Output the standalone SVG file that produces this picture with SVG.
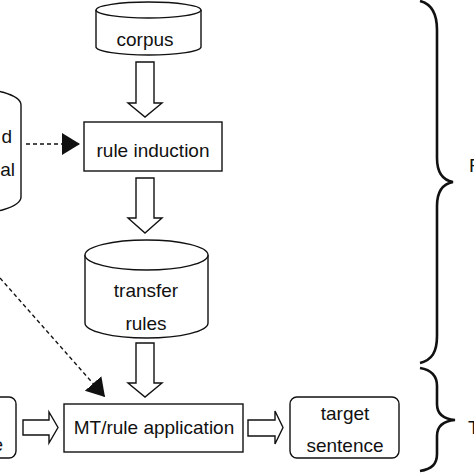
<svg xmlns="http://www.w3.org/2000/svg" width="474" height="474" viewBox="0 0 474 474">
<style>
.s{fill:#fff;stroke:#111;stroke-width:1.4}
.t{font-family:"Liberation Sans",Arial,sans-serif;font-size:19px;fill:#111}
.c{text-anchor:middle}
.d{fill:none;stroke:#111;stroke-width:1.3;stroke-dasharray:4 3}
.b{fill:none;stroke:#111;stroke-width:2.6}
</style>
<defs>
<marker id="ah" markerUnits="userSpaceOnUse" markerWidth="20" markerHeight="24" refX="18" refY="11" orient="auto">
<path d="M0,0 L18,11 L0,22 z" fill="#111"/>
</marker>
</defs>
<g id="aligned-bilingual">
<path class="s" d="M21,105 L21,197 A61,18 0 0 1 -40,215 L-40,87 A61,18 0 0 1 21,105 z"/>
<text class="t" x="12" y="143" text-anchor="end">d</text>
<text class="t" x="15" y="176" text-anchor="end">al</text>
</g>
<g id="corpus">
<path class="s" d="M96,10 L96,47 A52.5,8 0 0 0 201,47 L201,10"/>
<ellipse class="s" cx="148.5" cy="10" rx="52.5" ry="8"/>
<text class="t c" x="145" y="46">corpus</text>
</g>
<g id="rule-induction">
<rect class="s" x="84" y="122" width="138" height="49"/>
<text class="t c" x="153" y="157">rule induction</text>
</g>
<g id="transfer-rules">
<path class="s" d="M85,255 L85,323 A61.5,15 0 0 0 208,323 L208,255"/>
<ellipse class="s" cx="146.5" cy="255" rx="61.5" ry="15"/>
<text class="t c" x="146" y="297">transfer</text>
<text class="t c" x="146" y="330">rules</text>
</g>
<g id="source-sentence">
<rect class="s" x="-60" y="397" width="76" height="61" rx="7"/>
<text class="t" x="3" y="451" text-anchor="end">e</text>
</g>
<g id="mt-rule-application">
<rect class="s" x="64" y="404" width="179" height="48"/>
<text class="t c" x="154" y="434">MT/rule application</text>
</g>
<g id="target-sentence">
<rect class="s" x="290" y="397" width="109" height="61" rx="7"/>
<text class="t c" x="345" y="420">target</text>
<text class="t c" x="345" y="452">sentence</text>
</g>
<g id="connectors">
<path class="s" d="M136,62 L154,62 L154,103 L162,103 L145,117 L128,103 L136,103 z"/>
<path class="s" d="M136,178 L154,178 L154,218 L162,218 L145,233 L128,218 L136,218 z"/>
<path class="s" d="M136,343 L154,343 L154,383 L162,383 L145,397 L128,383 L136,383 z"/>
<path class="s" d="M23,420 L49,420 L49,412 L58,427.5 L49,443 L49,435 L23,435 z"/>
<path class="s" d="M248,420 L275,420 L275,411 L283,427.5 L275,444 L275,436 L248,436 z"/>
<path class="d" d="M26,144 L80,144" marker-end="url(#ah)"/>
<path class="d" d="M0,278 L105,397" marker-end="url(#ah)"/>
</g>
<g id="braces">
<path class="b" d="M420,1 C432,4 437,14 437,30 L437,158 C437,172 442,180 453,182 C442,184 437,192 437,206 L437,336 C437,352 432,360 420,363"/>
<path class="b" d="M420,368 C432,370 437,376 437,386 L437,404 C437,414 443,419 455,420 C443,421 437,426 437,436 L437,454 C437,464 432,469 420,471"/>
<text class="t" x="469" y="172">F</text>
<text class="t" x="468" y="434">T</text>
</g>
</svg>
